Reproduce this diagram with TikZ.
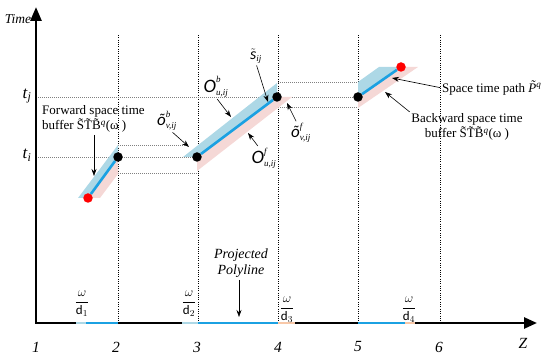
\RequirePackage{fix-cm}
\documentclass[tikz,border=0pt]{standalone}
\usepackage{amsmath}
\usepackage{fontspec}
\setmainfont{Liberation Serif}
\newfontfamily\calibri{Carlito}
\usetikzlibrary{arrows.meta}
\definecolor{azul}{HTML}{1BA1E2}
\definecolor{celeste}{HTML}{ADD8E6}
\definecolor{rosa}{HTML}{F5D8D6}
\definecolor{salmon}{HTML}{F8C8A8}
\newcommand{\etiq}[3]{$\mbox{#1}^{\mbox{\fontsize{9}{10}\selectfont\itshape #2}}_{\mbox{\fontsize{9}{10}\selectfont\itshape #3}}$}

\begin{document}
\begin{tikzpicture}[
    x=1pt, y=-1pt,
    every node/.style={inner sep=0pt, font=\fontsize{13}{15.5}\selectfont},
    punto/.style={circle, fill=black, minimum size=9.5pt},
    eje/.style={line width=2.6pt, {Triangle[length=14pt, width=11pt]}-{Triangle[length=13pt, width=11pt]}},
    proy/.style={line width=2.6pt},
    guia/.style={line width=0.8pt, dash pattern=on 1pt off 1.3pt},
    rejilla/.style={gray, line width=0.5pt, dash pattern=on 1pt off 1pt},
    trayecto/.style={azul, line width=2.6pt},
    flecha/.style={line width=0.6pt, shorten <=2pt, -{Stealth[length=7pt, width=5pt]}},
    eti/.style={font=\fontsize{15.5}{17}\selectfont\itshape}
]
    \useasboundingbox (0,0) rectangle (550,355);

    % Guías verticales en cada posición de Z
    \foreach \x in {118,198,278,358,440}
        \draw[guia] (\x,35) -- (\x,323);

    % Proyecciones horizontales de los tiempos
    \draw[rejilla] (38,97) -- (358,97);
    \draw[rejilla] (38,157) -- (197,157);
    \draw[rejilla] (118,145) -- (188,145);
    \draw[rejilla] (118,173) -- (197,173);
    \draw[rejilla] (278,82) -- (358,82);
    \draw[rejilla] (278,107) -- (358,107);

    % Ejes
    \coordinate (ytop) at (36,7);
    \coordinate (O) at (36,323);
    \coordinate (zend) at (537,323);
    \draw[eje] (ytop) -- (O) -- (zend);
    \node[font=\fontsize{13.5}{15}\selectfont\itshape] (tiempo) at (18,19) {Time};
    \foreach \n/\x in {1/36,2/116,3/197,4/278,5/358,6/439}
        \node[eti] (z\n) at (\x,347) {\n};
    \node[eti] (zlab) at (523,343) {Z};
    \node[font=\fontsize{17}{19}\selectfont] (tj) at (27,96) {\textit{t}\textsubscript{\textit{j}}};
    \node[font=\fontsize{17}{19}\selectfont] (ti) at (27,155) {\textit{t}\textsubscript{\textit{i}}};

    % Buffers hacia atrás (celeste) y hacia adelante (rosa)
    \fill[celeste] (78,198) -- (88,198) -- (118,157) -- (118,145) -- cycle;
    \fill[rosa] (88,198) -- (100,198) -- (118,174) -- (118,157) -- cycle;
    \fill[celeste] (183,157) -- (197,157) -- (277,97) -- (277,83) -- cycle;
    \fill[rosa] (197,157) -- (277,97) -- (292,97) -- (197,171) -- cycle;
    \fill[celeste] (358,97) -- (358,82) -- (379,67) -- (401,67) -- cycle;
    \fill[rosa] (358,97) -- (401,67) -- (418,67) -- (358,108) -- cycle;

    % Polilínea proyectada sobre Z
    \draw[proy, celeste] (76,323) -- (86,323);
    \draw[proy, azul] (86,323) -- (118,323);
    \draw[proy, celeste] (182,323) -- (198,323);
    \draw[proy, azul] (198,323) -- (278,323);
    \draw[proy, salmon] (278,323) -- (295,323);
    \draw[proy, azul] (358,323) -- (405,323);
    \draw[proy, salmon] (405,323) -- (415,323);
    \node (w1) at (82,304) {$\dfrac{\omega}{\mbox{\calibri d}_1}$};
    \node (w2) at (189,304) {$\dfrac{\omega}{\mbox{\calibri d}_2}$};
    \node (w3) at (287,310) {$\dfrac{\omega}{\mbox{\calibri d}_3}$};
    \node (w4) at (409,310) {$\dfrac{\omega}{\mbox{\calibri d}_4}$};

    % Puntos de la trayectoria
    \node[punto, fill=red] (r1) at (88,198) {};
    \node[punto] (b1) at (118,157) {};
    \node[punto] (b2) at (197,157) {};
    \node[punto] (b3) at (277,97) {};
    \node[punto] (b4) at (358,97) {};
    \node[punto, fill=red] (r2) at (401,67) {};
    \draw[trayecto] (r1) -- (b1);
    \draw[trayecto] (b2) -- (b3);
    \draw[trayecto] (b4) -- (r2);

    % Etiquetas de los buffers
    \node (obv) at (167,121) {\etiq{\fontsize{17}{18}\selectfont\calibri\itshape\~{o}}{b}{v,ij}};
    \node (Obu) at (216,87) {\etiq{\fontsize{19}{20}\selectfont\calibri\itshape O}{b}{u,ij}};
    \node (sij) at (256,56) {$\tilde{\mbox{\fontsize{16}{17}\selectfont\calibri\itshape s}}_{\mbox{\fontsize{9}{10}\selectfont\itshape ij}}$};
    \node (Ofu) at (264,158) {\etiq{\fontsize{19}{20}\selectfont\calibri\itshape O}{f}{u,ij}};
    \node (ofv) at (301,133) {\etiq{\fontsize{17}{18}\selectfont\calibri\itshape\~{o}}{f}{v,ij}};
    \coordinate (obvtip) at (189,147);
    \coordinate (Obutip) at (231,117);
    \coordinate (sijtip) at (268,102);
    \coordinate (Ofutip) at (248,133);
    \coordinate (ofvtip) at (287,103);
    \draw[flecha] ([xshift=4pt]obv.south) -- (obvtip);
    \draw[flecha] (Obu.south) -- (Obutip);
    \draw[flecha] (sij.south) -- (sijtip);
    \draw[flecha] ([xshift=-5pt]Ofu.north) -- (Ofutip);
    \draw[flecha] ([xshift=-4pt]ofv.north) -- (ofvtip);

    % Textos explicativos
    \node[align=left, anchor=west] (fwd) at (42,119) {Forward space time\\buffer \~{S}\~{T}\~{B}\textsuperscript{\textit{q}}(ω )};
    \node[align=center] (bwd) at (467,127) {Backward space time\\buffer \~{S}\~{T}\~{B}\textsuperscript{\textit{q}}(ω )};
    \node[anchor=west] (pth) at (442,88) {Space time path \textit{\~{P}\textsuperscript{q}}};
    \node[align=center, font=\fontsize{14}{16.5}\selectfont\itshape] (poly) at (241,263) {Projected\\Polyline};
    \coordinate (fwdtip) at (94,176);
    \coordinate (bwdtip) at (385,92);
    \coordinate (pthtip) at (392,78);
    \coordinate (polytip) at (239,317);
    \draw[flecha] (fwd.south -| fwdtip) -- (fwdtip);
    \draw[flecha] (bwd.north west) -- (bwdtip);
    \draw[flecha] (pth.west) -- (pthtip);
    \draw[flecha] (poly.south -| polytip) -- (polytip);
\end{tikzpicture}
\end{document}
